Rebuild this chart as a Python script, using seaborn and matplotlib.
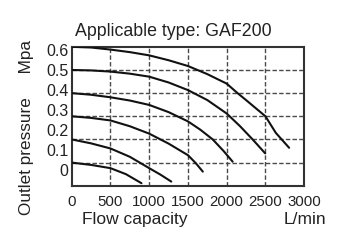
import numpy as np
import pandas as pd
import matplotlib
matplotlib.use("Agg")
import matplotlib.pyplot as plt
import seaborn as sns

# ---- data ----
curve_a_x = [0, 250, 500, 750, 1000, 1250, 1500, 1750, 2000, 2140, 2250, 2500, 2635, 2806]
curve_a_y = [0.600, 0.597, 0.588, 0.577, 0.563, 0.542, 0.517, 0.482, 0.441, 0.400, 0.370, 0.300, 0.228, 0.164]

curve_b_x = [0, 250, 500, 750, 1000, 1250, 1500, 1750, 2000, 2170, 2335, 2497]
curve_b_y = [0.500, 0.498, 0.493, 0.484, 0.471, 0.446, 0.413, 0.370, 0.312, 0.258, 0.200, 0.140]

curve_c_x = [0, 250, 500, 750, 1000, 1250, 1500, 1660, 1820, 1960, 2077]
curve_c_y = [0.400, 0.393, 0.382, 0.368, 0.349, 0.318, 0.278, 0.242, 0.200, 0.150, 0.104]

curve_d_x = [0, 250, 500, 750, 1000, 1250, 1500, 1600, 1692]
curve_d_y = [0.300, 0.293, 0.282, 0.257, 0.225, 0.182, 0.132, 0.098, 0.061]

curve_e_x = [0, 250, 500, 750, 1000, 1150, 1285]
curve_e_y = [0.200, 0.183, 0.161, 0.125, 0.076, 0.047, 0.018]

curve_f_x = [0, 250, 500, 700, 900]
curve_f_y = [0.100, 0.090, 0.076, 0.050, 0.011]

x_ticks = [0, 500, 1000, 1500, 2000, 2500, 3000]
x_tick_labels = ["0", "500", "1000", "1500", "2000", "2500", "3000"]
y_grid = [0.1, 0.2, 0.3, 0.4, 0.5]
y_tick_labels = ["0", "0.1", "0.2", "0.3", "0.4", "0.5", "0.6"]

title_text = "Applicable type: GAF200"
ylabel_text = "Outlet pressure     Mpa"
xlabel_text = "Flow capacity"
unit_text = "L/min"

# ---- build table ----
frames = []
for name, xs, ys in [("a", curve_a_x, curve_a_y), ("b", curve_b_x, curve_b_y),
                     ("c", curve_c_x, curve_c_y), ("d", curve_d_x, curve_d_y),
                     ("e", curve_e_x, curve_e_y), ("f", curve_f_x, curve_f_y)]:
    frames.append(pd.DataFrame({"flow": xs, "pressure": ys, "curve": name}))
df = pd.concat(frames, ignore_index=True)

sns.set_theme(style="white")
plt.rcParams["font.family"] = ["Liberation Sans", "DejaVu Sans"]

fig = plt.figure(figsize=(3.5, 2.4), dpi=100)
ax = fig.add_axes([0.205, 0.226, 0.664, 0.579])

grid_kw = dict(color="#4a4a4a", lw=1.0, dashes=(3.2, 1.6), zorder=1)
for gx in x_ticks[1:-1]:
    ax.axvline(gx, **grid_kw)
for gy in y_grid:
    ax.axhline(gy, **grid_kw)

sns.lineplot(data=df, x="flow", y="pressure", units="curve", estimator=None,
             sort=False, color="#111111", lw=1.5, ax=ax, zorder=3)

ax.set_xlim(0, 2990)
ax.set_ylim(0, 0.6)
ax.set_xticks(x_ticks)
ax.set_xticklabels(x_tick_labels, fontsize=10.8)
ax.set_yticks(np.linspace(0.068, 0.586, len(y_tick_labels)))
ax.set_yticklabels(y_tick_labels, fontsize=11.5)
ax.tick_params(axis="both", length=0, colors="#222222")
ax.tick_params(axis="x", pad=7)
ax.tick_params(axis="y", pad=2.5)
ax.set_xlabel("")
ax.set_ylabel("")
for s in ax.spines.values():
    s.set_color("#333333")
    s.set_linewidth(1.5)

fig.text(0.496, 0.85, title_text, ha="center", va="baseline", fontsize=12.8, color="#222222")
fig.text(0.077, 0.47, ylabel_text, rotation=90, ha="center", va="center", fontsize=12.3, color="#222222")
fig.text(0.233, 0.067, xlabel_text, ha="left", va="baseline", fontsize=12.5, color="#222222")
fig.text(0.931, 0.067, unit_text, ha="right", va="baseline", fontsize=12.5, color="#222222")

fig.savefig("out.png", dpi=100)
